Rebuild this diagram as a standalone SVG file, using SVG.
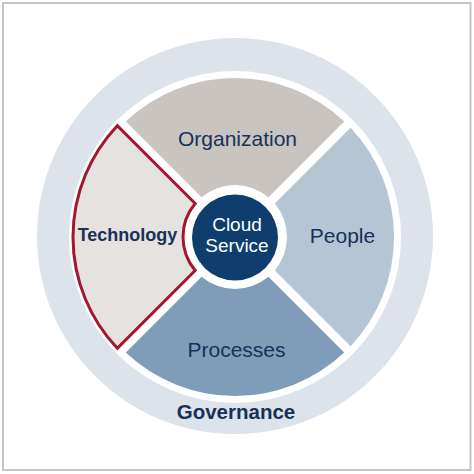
<svg xmlns="http://www.w3.org/2000/svg" width="474" height="474" viewBox="0 0 474 474">
  <style>
    .lbl { font-family: "Liberation Sans", Arial, sans-serif; fill: #16315a; text-anchor: middle; }
    .reg { font-size: 21px; }
    .bold { font-weight: bold; }
    .white { fill: #ffffff; font-size: 19px; }
  </style>
  <rect x="0" y="0" width="474" height="474" fill="#ffffff"/>
  <rect x="3" y="3" width="467.5" height="467" fill="#ffffff" stroke="#c2c6ca" stroke-width="2"/>
  <g id="governance">
    <circle cx="235" cy="236" r="198" fill="#dde3ea"/>
    <circle cx="235" cy="237" r="166" fill="#ffffff"/>
    <text class="lbl bold" x="236" y="419" font-size="20.5">Governance</text>
  </g>
  <g id="organization">
    <path d="M 125.8 121.4 A 159 159 0 0 1 344.2 121.4 L 268.45 197.19 A 52 52 0 0 0 201.55 197.19 Z" fill="#c9c4c0"/>
    <text class="lbl reg" x="237.5" y="146">Organization</text>
  </g>
  <g id="people">
    <path d="M 350.6 127.8 A 159 159 0 0 1 350.6 346.2 L 274.81 270.45 A 52 52 0 0 0 274.81 203.55 Z" fill="#b6c5d4"/>
    <text class="lbl reg" x="342.5" y="243">People</text>
  </g>
  <g id="processes">
    <path d="M 344.2 352.6 A 159 159 0 0 1 125.8 352.6 L 201.55 276.81 A 52 52 0 0 0 268.45 276.81 Z" fill="#7f9db9"/>
    <text class="lbl reg" x="236.5" y="357">Processes</text>
  </g>
  <g id="technology">
    <path d="M 117.31 348.33 A 162 162 0 0 1 117.31 125.67 L 195.19 203.55 A 52 52 0 0 0 195.19 270.45 Z" fill="#e6e2df" stroke="#a3162f" stroke-width="3" stroke-linejoin="miter"/>
    <text class="lbl bold" x="127.5" y="241" font-size="18">Technology</text>
  </g>
  <g id="cloud-service">
    <circle cx="235" cy="237.5" r="43" fill="#0f3d6d"/>
    <text class="lbl white" x="237" y="230.5">Cloud</text>
    <text class="lbl white" x="237" y="252">Service</text>
  </g>
  <g id="connectors"/>
</svg>
